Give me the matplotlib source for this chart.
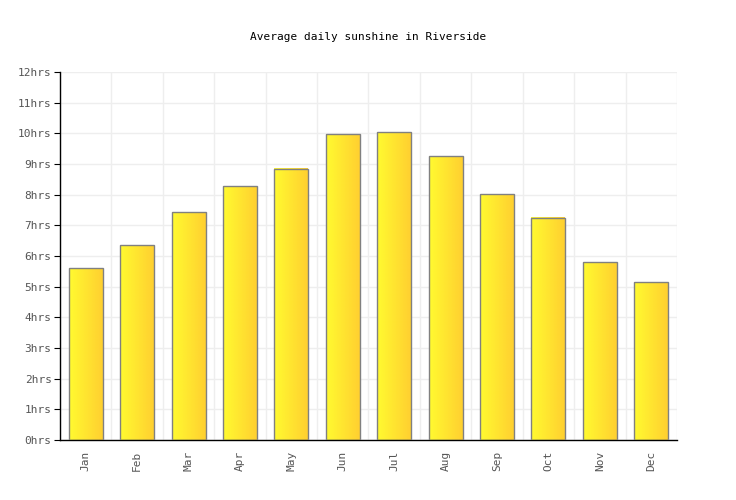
import numpy as np
import matplotlib
matplotlib.use("Agg")
import matplotlib.pyplot as plt
from matplotlib.colors import LinearSegmentedColormap

months = ["Jan", "Feb", "Mar", "Apr", "May", "Jun",
          "Jul", "Aug", "Sep", "Oct", "Nov", "Dec"]
sunshine_hrs = [5.60, 6.35, 7.42, 8.27, 8.85, 9.97,
                10.03, 9.25, 8.02, 7.24, 5.80, 5.15]
y_ticks = list(range(0, 13))
y_labels = [f"{v}hrs" for v in y_ticks]

plt.rcParams["font.family"] = ["DejaVu Sans Mono"]

fig = plt.figure(figsize=(7.36, 5), dpi=100)
ax = fig.add_axes([60 / 736, 60 / 500, 617 / 736, 368 / 500])

x = np.arange(len(months))
bars = ax.bar(x, sunshine_hrs, width=0.66, facecolor="none",
              edgecolor="#808080", linewidth=1.0, zorder=3)

# horizontal yellow -> orange gradient inside every bar
grad_cmap = LinearSegmentedColormap.from_list("sun", ["#fffa30", "#ffd030"])
gradient = np.linspace(0, 1, 64).reshape(1, -1)
for b in bars:
    x0, w, h = b.get_x(), b.get_width(), b.get_height()
    ax.imshow(gradient, cmap=grad_cmap, aspect="auto",
              extent=(x0, x0 + w, 0, h), zorder=2, interpolation="bilinear")

ax.set_xlim(-0.5, len(months) - 0.5)
ax.set_ylim(0, 12)

ax.set_yticks(y_ticks)
ax.set_yticklabels(y_labels)
ax.set_xticks(x)
ax.set_xticklabels(months, rotation=90)

# grid: horizontal at every hour, vertical between months
ax.set_xticks(np.arange(-0.5, len(months) + 0.5, 1), minor=True)
ax.grid(True, axis="y", which="major", color="#eeeeee", linewidth=1, zorder=0)
ax.grid(True, axis="x", which="minor", color="#eeeeee", linewidth=1, zorder=0)

ax.tick_params(axis="y", which="major", length=4, color="#000000",
               labelsize=8, labelcolor="#555555", pad=2)
ax.tick_params(axis="x", which="major", length=0,
               labelsize=8, labelcolor="#555555", pad=8)
ax.tick_params(axis="x", which="minor", length=0)

for side in ["top", "right"]:
    ax.spines[side].set_visible(False)
for side in ["left", "bottom"]:
    ax.spines[side].set_color("#000000")
    ax.spines[side].set_linewidth(1)

fig.text(368 / 736, 1 - 37 / 500, "Average daily sunshine in Riverside",
         ha="center", va="center", fontsize=8, color="#000000")

fig.savefig("out.png", dpi=100)
